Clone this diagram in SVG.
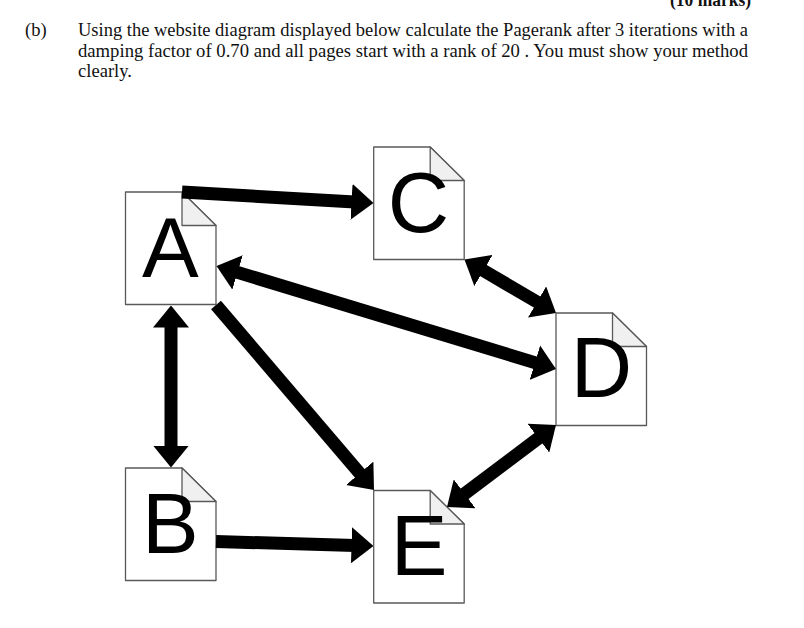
<svg xmlns="http://www.w3.org/2000/svg" width="804" height="628" viewBox="0 0 804 628">
<style>
.q{font-family:"Liberation Serif","Times New Roman",serif;font-size:18.500px;fill:#111}
.b{font-weight:bold}
.page{fill:#fff;stroke:#595959;stroke-width:1.3;stroke-linejoin:round}
.fold{fill:#f0f0f0;stroke:#595959;stroke-width:1.3;stroke-linejoin:round}
.lbl{font-family:"Liberation Sans",Arial,sans-serif;font-size:85px;fill:#000}
.a{stroke:#000;stroke-width:13;fill:none}
.one{marker-end:url(#h)}
.two{marker-start:url(#h);marker-end:url(#h)}
</style>
<defs>
<marker id="h" markerUnits="userSpaceOnUse" markerWidth="22" markerHeight="36" refX="12" refY="18" orient="auto-start-reverse" viewBox="0 0 22 36"><path d="M0 0L22 18L0 36Z" fill="#000"/></marker>
<g id="doc"><path class="page" d="M0 0H56.500L90.500 33.500V112.500H0Z"/><path class="fold" d="M56.500 0V33.500H90.500Z"/></g>
</defs>
<rect width="804" height="628" fill="#fff"/>
<g id="question">
<text class="q b" x="670" y="6" textLength="81" lengthAdjust="spacingAndGlyphs">(10 marks)</text>
<text class="q" x="25" y="36">(b)</text>
<text class="q" x="78" y="36" textLength="670" lengthAdjust="spacingAndGlyphs">Using the website diagram displayed below calculate the Pagerank after 3 iterations with a</text>
<text class="q" x="78" y="56.500" textLength="670" lengthAdjust="spacingAndGlyphs">damping factor of 0.70 and all pages start with a rank of 20 . You must show your method</text>
<text class="q" x="78" y="76.500" textLength="54" lengthAdjust="spacingAndGlyphs">clearly.</text>
</g>
<g id="node-A"><use href="#doc" x="125.500" y="192"/><text class="lbl" x="170.300" y="276.700" text-anchor="middle">A</text></g>
<g id="node-C"><use href="#doc" x="373.700" y="147"/><text class="lbl" x="418.500" y="231.500" text-anchor="middle">C</text></g>
<g id="node-D"><use href="#doc" x="556" y="313"/><text class="lbl" x="601.500" y="397" text-anchor="middle">D</text></g>
<g id="node-B"><use href="#doc" x="125.500" y="468"/><text class="lbl" x="170.300" y="552.700" text-anchor="middle">B</text></g>
<g id="node-E"><use href="#doc" x="373.700" y="490.500"/><text class="lbl" x="419" y="575" text-anchor="middle">E</text></g>
<g id="connectors">
<line class="a one" x1="182" y1="192" x2="363.500" y2="202.500"/>
<line class="a two" x1="226.100" y1="268.900" x2="546.400" y2="366.100"/>
<line class="a two" x1="473.100" y1="264.500" x2="547.400" y2="308"/>
<line class="a two" x1="171" y1="315.500" x2="171" y2="457.500"/>
<line class="a one" x1="216" y1="305" x2="367.500" y2="482.400"/>
<line class="a one" x1="216" y1="541.500" x2="363.500" y2="545.700"/>
<line class="a two" x1="455" y1="501" x2="548" y2="431"/>
</g>
</svg>
